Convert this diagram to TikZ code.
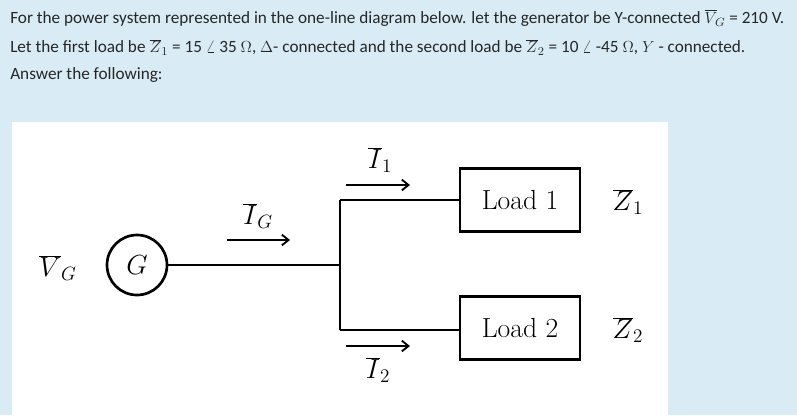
\documentclass[tikz,border=0pt]{standalone}
\usepackage{fontspec}
\newfontfamily\qfont{Carlito}
\usetikzlibrary{arrows.meta}
\begin{document}
\begin{tikzpicture}[x=0.75pt,y=-0.75pt,
  wire/.style={line width=2pt},
  loadbox/.style={draw,line width=2pt,minimum width=90pt,minimum height=47pt,font=\huge,inner sep=0pt},
  lab/.style={font=\huge},
  curarrow/.style={line width=1.4pt,-{Straight Barb[length=5pt,width=8pt]}},
  qtext/.style={anchor=west,font=\qfont\fontsize{12.9}{14}\selectfont,inner sep=0pt,text=black!85}]
\fill[fill={rgb,255:red,217;green,236;blue,245}] (0,0) rectangle (797,415);
\useasboundingbox (0,0) rectangle (797,415);
\fill[white] (12,122) rectangle (668,415);
\node[qtext] (t1) at (10,18) {For the power system represented in the one-line diagram below. let the generator be Y-connected $\overline{V}_{\!G}$ = 210 V.};
\node[qtext] (t2) at (10,47) {Let the first load be $\overline{Z}_1$ = 15 $\angle$ 35 $\Omega$, $\Delta$- connected and the second load be $\overline{Z}_2$ = 10 $\angle$ -45 $\Omega$, $Y$ - connected.};
\node[qtext] (t3) at (10,75) {Answer the following:};
\node[draw,circle,line width=2pt,minimum size=45pt,inner sep=0pt,font=\huge] (g) at (137,265) {$G$};
\node[lab] (vg) at (58,268) {$\overline{V}_G$};
\coordinate (bm) at (340,265);
\coordinate (bt) at (340,200);
\coordinate (bb) at (340,330);
\node[loadbox] (l1) at (520,200) {Load 1};
\node[loadbox] (l2) at (520,328) {Load 2};
\node[lab] (z1) at (628,202) {$\overline{Z}_1$};
\node[lab] (z2) at (628,330) {$\overline{Z}_2$};
\draw[wire] (g) -- (bm);
\draw[wire] (bt) -- (bb);
\draw[wire] (bt) -- (l1.west |- bt);
\draw[wire] (bb) -- (l2.west |- bb);
\coordinate (a1s) at (346,185); \coordinate (a1e) at (410,185);
\draw[curarrow] (a1s) -- (a1e);
\node[lab] (i1) at (380,160) {$\overline{I}_1$};
\coordinate (a2s) at (346,346); \coordinate (a2e) at (410,346);
\draw[curarrow] (a2s) -- (a2e);
\node[lab] (i2) at (378,370) {$\overline{I}_2$};
\coordinate (ags) at (227,240); \coordinate (age) at (290,240);
\draw[curarrow] (ags) -- (age);
\node[lab] (ig) at (258,216) {$\overline{I}_G$};
\end{tikzpicture}
\end{document}
